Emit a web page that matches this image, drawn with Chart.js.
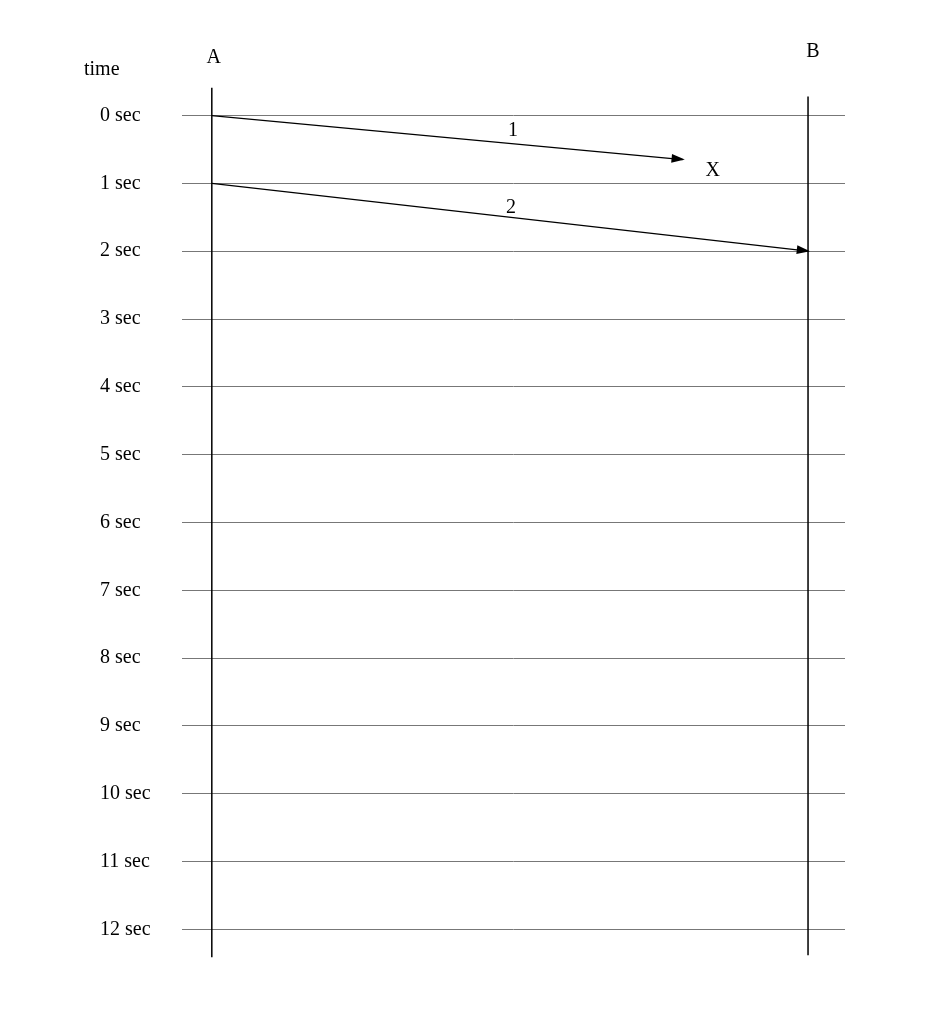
<!DOCTYPE html>
<html>
<head>
<meta charset="utf-8">
<script src="https://cdn.jsdelivr.net/npm/chart.js@4"></script>
<style>
  body { margin: 0; background: #fff; }
  canvas { position: absolute; left: 0; top: 0; }
</style>
</head>
<body>
<canvas id="diagram" width="929" height="1024"></canvas>
<script>
// time rows (seconds)
const timeTicks = [0, 1, 2, 3, 4, 5, 6, 7, 8, 9, 10, 11, 12]
// hosts: A at x=0, B at x=1
const hostNames = ['A', 'B']
const hostLines = [
    [{x: 0, y: -0.41}, {x: 0, y: 12.41}],
    [{x: 1, y: -0.28}, {x: 1, y: 12.38}]
]
// packets sent from A
const packetLabels = ['1', '2']
const packetFrom = [{x: 0, y: 0}, {x: 0, y: 1}]
const packetTo = [{x: 0.79, y: 0.65}, {x: 1.0, y: 2}]
const packetLabelPos = [{x: 0.505, y: 0.22}, {x: 0.502, y: 1.36}]
const lossMark = {x: 0.84, y: 0.82, text: 'X'}

const serif = '"Liberation Serif", "Times New Roman", serif'

const datasets = []
hostLines.forEach((pts) => {
    datasets.push({data: pts, borderColor: '#000', borderWidth: 1.5, showLine: true, pointRadius: 0})
})
packetFrom.forEach((p, i) => {
    datasets.push({data: [p, packetTo[i]], borderColor: '#000', borderWidth: 1.3, showLine: true, pointRadius: 0, arrow: true})
})

const overlay = {
    id: 'overlay',
    afterDatasetsDraw(chart) {
        const ctx = chart.ctx
        const xs = chart.scales.x, ys = chart.scales.y
        ctx.save()
        ctx.fillStyle = '#000'
        // arrowheads
        packetFrom.forEach((p, i) => {
            const x1 = xs.getPixelForValue(p.x), y1 = ys.getPixelForValue(p.y)
            const x2 = xs.getPixelForValue(packetTo[i].x), y2 = ys.getPixelForValue(packetTo[i].y)
            const a = Math.atan2(y2 - y1, x2 - x1)
            ctx.beginPath()
            ctx.moveTo(x2 + 2, y2)
            ctx.lineTo(x2 + 2 - 14 * Math.cos(a - 0.32), y2 - 14 * Math.sin(a - 0.32))
            ctx.lineTo(x2 + 2 - 14 * Math.cos(a + 0.32), y2 - 14 * Math.sin(a + 0.32))
            ctx.closePath()
            ctx.fill()
        })
        ctx.font = '20px ' + serif
        ctx.textAlign = 'center'
        ctx.textBaseline = 'middle'
        packetLabels.forEach((t, i) => {
            ctx.fillText(t, xs.getPixelForValue(packetLabelPos[i].x), ys.getPixelForValue(packetLabelPos[i].y))
        })
        ctx.fillText(lossMark.text, xs.getPixelForValue(lossMark.x), ys.getPixelForValue(lossMark.y))
        // header labels
        ctx.fillText(hostNames[0], xs.getPixelForValue(0) + 2, 58)
        ctx.fillText(hostNames[1], xs.getPixelForValue(1) + 5, 52)
        ctx.textAlign = 'left'
        ctx.fillText('time', 84, 70)
        ctx.restore()
    }
}

new Chart(document.getElementById('diagram'), {
    type: 'scatter',
    data: {datasets},
    plugins: [overlay],
    options: {
        responsive: false,
        animation: false,
        layout: {padding: {left: 100, right: 84, top: 85, bottom: 64}},
        plugins: {legend: {display: false}, tooltip: {enabled: false}},
        scales: {
            x: {
                display: false,
                min: -0.05,
                max: 1.062
            },
            y: {
                reverse: true,
                min: -0.45,
                max: 12.45,
                afterFit: (scale) => { scale.width = 82 },
                afterBuildTicks: (scale) => { scale.ticks = timeTicks.map(v => ({value: v})) },
                border: {display: false},
                grid: {
                    color: '#777',
                    lineWidth: 1,
                    drawTicks: false,
                    tickBorderDash: [1, 1]
                },
                ticks: {
                    color: '#000',
                    crossAlign: 'far',
                    padding: 10,
                    font: {family: serif, size: 20},
                    callback: (v) => v + ' sec'
                }
            }
        }
    }
})
// dotted grid
Chart.defaults.borderDash = [1, 1]
</script>
</body>
</html>
